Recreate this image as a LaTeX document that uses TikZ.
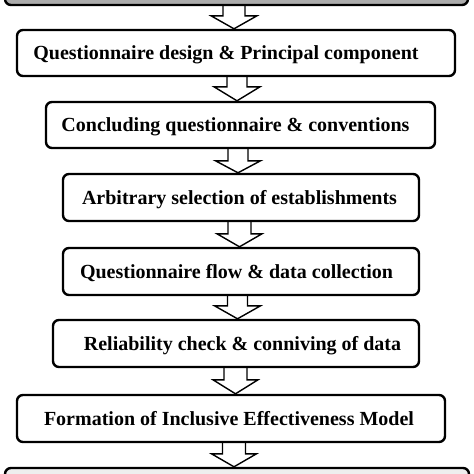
\documentclass[tikz,border=0pt]{standalone}
\usepackage{fontspec}
\setmainfont{Liberation Serif}
\usetikzlibrary{calc}
\tikzset{
  x=1pt, y=-1pt,
  stage/.style={draw=black, line width=2.4pt, rounded corners=6pt, fill=white},
  label/.style={font=\fontsize{20}{24}\selectfont\bfseries, inner sep=0pt, anchor=base},
  arrowline/.style={draw=black, line width=1.4pt, line join=miter},
}
% #1 from, #2 to, #3 centre x, #4 shaft half width, #5 head half width, #6 head length
\newcommand\blockarrow[6]{%
  \draw[arrowline] let \p1=(#1.south), \p2=(#2.north) in
    (#3-#4, \y1) -- (#3-#4, \y2+#6pt) -- (#3-#5, \y2+#6pt) -- (#3, \y2)
    -- (#3+#5, \y2+#6pt) -- (#3+#4, \y2+#6pt) -- (#3+#4, \y1);}
\begin{document}
\begin{tikzpicture}
\useasboundingbox (0,0) rectangle (474,474);
\clip (0,0) rectangle (474,474);
% boxes
\node[stage, fill={rgb,255:red,172;green,172;blue,172}, minimum width=463pt, minimum height=40pt] (top) at (236.5,-15) {};
\node[stage, minimum width=438pt, minimum height=46pt] (b1) at (236,53) {};
\node[stage, minimum width=389pt, minimum height=46pt] (b2) at (240.5,125) {};
\node[stage, minimum width=356pt, minimum height=47pt] (b3) at (241,197.5) {};
\node[stage, minimum width=356pt, minimum height=47pt] (b4) at (241,271.5) {};
\node[stage, minimum width=366pt, minimum height=47pt] (b5) at (236,343.5) {};
\node[stage, minimum width=428pt, minimum height=47pt] (b6) at (231,418.5) {};
\node[stage, fill={rgb,255:red,238;green,238;blue,238}, minimum width=464pt, minimum height=40pt] (bot) at (237,488) {};
% texts
\node[label] (t1) at (226,59.5) {Questionnaire design \& Principal component};
\node[label] (t2) at (235.5,131.5) {Concluding questionnaire \& conventions};
\node[label] (t3) at (239.5,204) {Arbitrary selection of establishments};
\node[label] (t4) at (236.5,278) {Questionnaire flow \& data collection};
\node[label] (t5) at (242.5,350) {Reliability check \& conniving of data};
\node[label] (t6) at (229,425) {Formation of Inclusive Effectiveness Model};
% arrows
\blockarrow{top}{b1}{234}{11}{23}{13}
\blockarrow{b1}{b2}{237}{10}{23}{14}
\blockarrow{b2}{b3}{238}{10}{22.5}{12}
\blockarrow{b3}{b4}{239.5}{11.5}{22.5}{13}
\blockarrow{b4}{b5}{237.5}{10}{23}{13}
\blockarrow{b5}{b6}{235.5}{11.5}{22.5}{14}
\blockarrow{b6}{bot}{234}{11.5}{22.5}{13}
\end{tikzpicture}
\end{document}
